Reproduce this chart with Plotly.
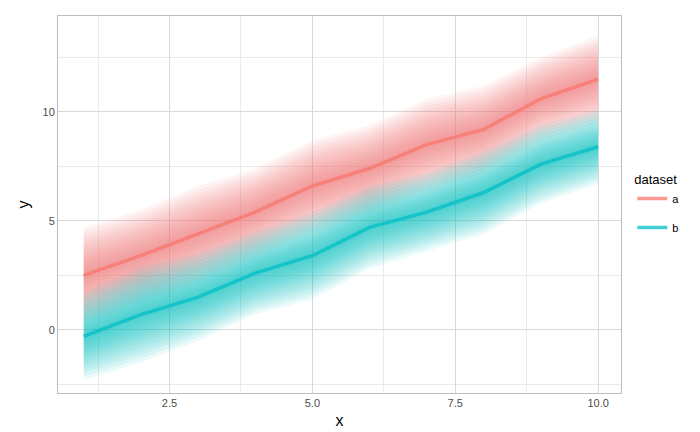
import plotly.graph_objects as go

x = [1, 2, 3, 4, 5, 6, 7, 8, 9, 10]
a_mid = [2.5, 3.4, 4.4, 5.4, 6.6, 7.4, 8.5, 9.2, 10.6, 11.5]
b_mid = [-0.3, 0.7, 1.5, 2.6, 3.4, 4.7, 5.4, 6.3, 7.6, 8.4]
# outer half-widths of the fans
a_hw = [2.2, 2.1, 2.2, 2.0, 2.1, 2.0, 2.1, 2.0, 1.9, 2.0]
b_hw = [2.0, 2.2, 2.0, 1.9, 2.0, 1.9, 1.8, 1.9, 1.8, 1.7]
levels = [1.0, 0.92, 0.84, 0.76, 0.68, 0.6, 0.52, 0.45, 0.38, 0.31, 0.24, 0.17, 0.1]

fig = go.Figure()
for name, mid, hw, rgb in [("a", a_mid, a_hw, "248,118,109"), ("b", b_mid, b_hw, "0,191,196")]:
    for lv in levels:
        up = [m + lv * h for m, h in zip(mid, hw)]
        lo = [m - lv * h for m, h in zip(mid, hw)]
        fig.add_trace(go.Scatter(x=x + x[::-1], y=up + lo[::-1], fill="toself",
                                 fillcolor=f"rgba({rgb},0.08)", line=dict(width=0),
                                 mode="lines", hoverinfo="skip", showlegend=False,
                                 legendgroup=name))
    fig.add_trace(go.Scatter(x=x, y=mid, mode="lines", name=name, legendgroup=name,
                             line=dict(color=f"rgba({rgb},0.75)", width=3.5)))

fig.update_xaxes(title=dict(text="x", standoff=6), range=[0.55, 10.4], tickvals=[2.5, 5, 7.5, 10],
                 ticktext=["2.5", "5.0", "7.5", "10.0"], showgrid=True, automargin=False,
                 gridcolor="#d9d9d9", zeroline=False, showline=True, linecolor="#bdbdbd",
                 mirror=True, minor=dict(tickvals=[1.25, 3.75, 6.25, 8.75], showgrid=True, gridcolor="#ebebeb"),
                 tickfont=dict(color="#4d4d4d", size=11))
fig.update_yaxes(title=dict(text="y", standoff=8), range=[-2.9, 14.4], tickvals=[0, 5, 10], showgrid=True,
                 gridcolor="#d9d9d9", zeroline=False, showline=True, linecolor="#bdbdbd", automargin=False,
                 mirror=True, minor=dict(tickvals=[-2.5, 2.5, 7.5, 12.5], showgrid=True, gridcolor="#ebebeb"),
                 tickfont=dict(color="#4d4d4d", size=11))
fig.update_layout(width=700, height=432, plot_bgcolor="white", paper_bgcolor="white",
                  margin=dict(l=50, r=87, t=8, b=47),
                  font=dict(family="Liberation Sans, Arial", size=13, color="black"),
                  legend=dict(title=dict(text="dataset"), x=1.02, y=0.5, yanchor="middle",
                              font=dict(size=11)))
fig.write_html("out.html")
